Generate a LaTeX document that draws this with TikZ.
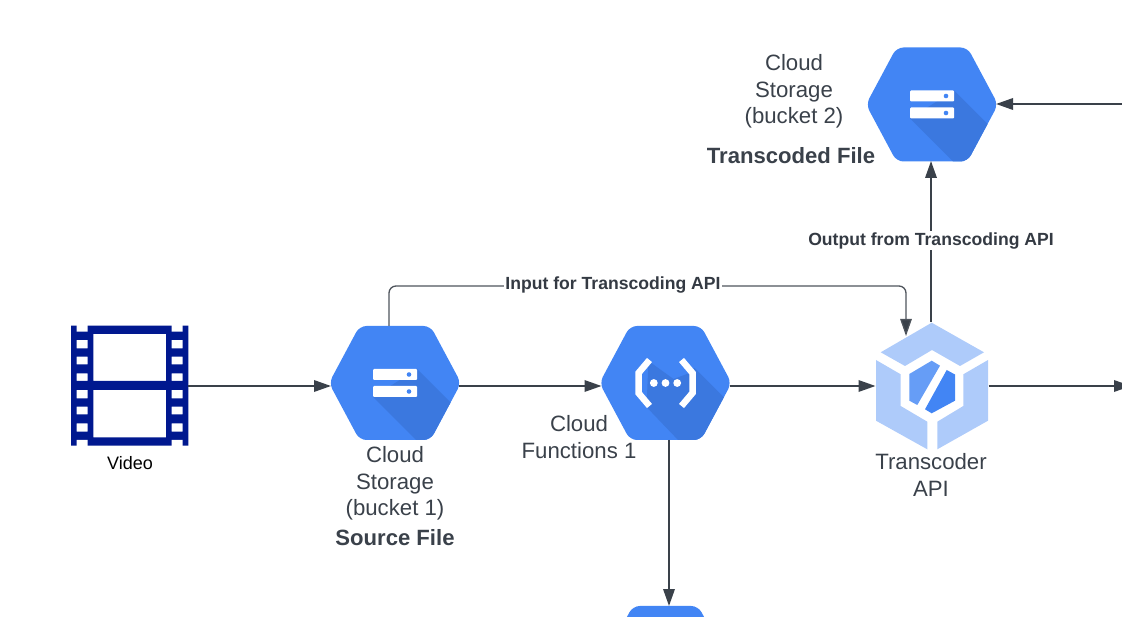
\documentclass[tikz,border=0pt]{standalone}
\usepackage{fontspec}
\setmainfont{Liberation Sans}
\usetikzlibrary{arrows.meta}
\definecolor{gblue}{HTML}{4285F4}
\definecolor{gshade}{HTML}{3B78DF}
\definecolor{gpale}{HTML}{AECBFA}
\definecolor{gmid}{HTML}{669DF6}
\definecolor{ink}{HTML}{3A414A}
\definecolor{navy}{HTML}{00188F}
\tikzset{
  conn/.style={draw=ink,line width=1.8pt,-{Triangle[length=17pt,width=11.5pt,fill=ink]}},
  thin conn/.style={draw=ink!90,line width=1.3pt,rounded corners=7pt,-{Triangle[length=17pt,width=11.5pt,fill=ink]}},
  hexbox/.style={minimum width=128pt,minimum height=114pt,inner sep=0pt,outer sep=0pt},
  lbl/.style={text=ink,font=\fontsize{22.2}{26.6}\selectfont,align=center,inner sep=0pt},
  boldlbl/.style={text=ink,font=\fontsize{22.1}{26}\selectfont\bfseries,inner sep=0pt},
  edgelbl/.style={text=ink!90!black,font=\fontsize{17.6}{20}\selectfont\bfseries,fill=white,inner sep=1pt},
  pics/hexagon/.style={code={
    \begin{scope}
      \clip[rounded corners=7pt] (0,-57) -- (35.5,-57) -- (66,0) -- (35.5,57) -- (-35.5,57) -- (-66,0) -- (-35.5,-57) -- cycle;
      \fill[gblue] (-70,-60) rectangle (70,60);
      #1
    \end{scope}
  }},
  pics/bucket/.style={code={
    \pic {hexagon={\fill[gshade] (22,-14) -- (80,44) -- (80,70) -- (34,70) -- (-22,14) -- cycle;}};
    \fill[white,rounded corners=1pt] (-22,-14) rectangle (22,-3);
    \fill[white,rounded corners=1pt] (-22,3) rectangle (22,14);
    \fill[gblue] (14,-8.5) circle (2.3) (14,8.5) circle (2.3);
  }},
  pics/functions/.style={code={
    \pic {hexagon={\fill[gshade] (-17,-22) -- (8,-4) -- (24,-10) -- (29,-15) -- (80,36) -- (80,70) -- (25,70) -- (-19,24) -- cycle;}};
    \draw[white,line width=6.5pt] (-16,-23) -- (-27,-10) -- (-27,10) -- (-16,23);
    \draw[white,line width=6.5pt] (16,-23) -- (27,-10) -- (27,10) -- (16,23);
    \fill[white] (-11.7,0) circle (3.9) (0,0) circle (3.9) (11.7,0) circle (3.9);
  }}
}
\begin{document}
\begin{tikzpicture}[x=1pt,y=-1pt]
\useasboundingbox (0,0) rectangle (1122,617);
\clip (0,0) rectangle (1122,617);
% hidden anchors for connectors
\node[minimum width=117pt,minimum height=120pt,inner sep=0pt,outer sep=0pt] (video) at (129.5,386) {};
\node[hexbox] (bucketa) at (395,386) {};
\node[hexbox] (func) at (665.5,386) {};
\node[minimum width=113pt,minimum height=127pt,inner sep=0pt,outer sep=0pt] (trans) at (932,386) {};
\node[hexbox] (bucketb) at (932,104) {};
\node[hexbox] (lower) at (665.5,663) {};
\coordinate (eastout) at (1131,386);
\coordinate (eastin) at (1130,104);
% film strip
\fill[navy,even odd rule]
  (71,325.7) rectangle (188.3,445.7)
  (93.3,334) rectangle (166,381)
  (93.3,390) rectangle (166,437.3)
  (76.7,340) rectangle (87.7,348.3)
  (76.7,356.7) rectangle (87.7,364.3)
  (76.7,373.3) rectangle (87.7,381)
  (76.7,390) rectangle (87.7,398.3)
  (76.7,406.7) rectangle (87.7,414.3)
  (76.7,423.3) rectangle (87.7,431.7)
  (171.7,340) rectangle (182.7,348.3)
  (171.7,356.7) rectangle (182.7,364.3)
  (171.7,373.3) rectangle (182.7,381)
  (171.7,390) rectangle (182.7,398.3)
  (171.7,406.7) rectangle (182.7,414.3)
  (171.7,423.3) rectangle (182.7,431.7);
\fill[white] (76.7,325) rectangle (87.7,331.7) (171.7,325) rectangle (182.7,331.7)
  (76.7,440) rectangle (87.7,446.5) (171.7,440) rectangle (182.7,446.5);
% icons
\pic at (395,383) {bucket};
\pic at (932,104.5) {bucket};
\pic at (665.5,383) {functions};
\pic[scale=0.92] at (665.5,658.4) {hexagon={}};
% transcoder cube
\fill[gpale] (931.7,322.7) -- (984,352.3) -- (960,366) -- (932,350) -- (905,366) -- (880.7,352.3) -- cycle;
\fill[gpale] (876,360) -- (900.7,374.3) -- (900.7,406) -- (927.3,421.7) -- (927.3,449.3) -- (876,420.7) -- cycle;
\fill[gpale] (988,360) -- (963.3,374.3) -- (963.3,406) -- (937.3,421.7) -- (937.3,449.3) -- (988,420.7) -- cycle;
\fill[gmid] (909.3,374) -- (931.7,360.7) -- (940,365.7) -- (917.3,405) -- (909.3,400.7) -- cycle;
\fill[gblue] (946.7,370) -- (955,374.5) -- (955,400.7) -- (931.7,413.3) -- (925,409.3) -- cycle;
% connectors
\draw[conn] (video.east) -- (bucketa.west);
\draw[conn] (bucketa.east) -- (func.west);
\draw[conn] (func.east) -- (trans.west);
\draw[conn] (trans.east) -- (eastout);
\draw[conn] (eastin) -- (bucketb.east);
\draw[conn] (trans.north) ++(-1,0) coordinate (transtop) (transtop) -- (transtop |- bucketb.south);
\draw[conn] ([xshift=3.5pt,yshift=3pt]func.south) -- ([xshift=3.5pt]lower.north);
\draw[thin conn] ([xshift=-6pt,yshift=3pt]bucketa.north) -- ++(0,-40) -| ([yshift=-13.5pt,xshift=-26pt]trans.north);
% connector labels
\node[edgelbl] (inlabel) at (613,284.7) {Input for Transcoding API};
\node[edgelbl] (outlabel) at (931,240.7) {Output from Transcoding API};
% labels
\node[lbl,font=\fontsize{18}{20}\selectfont,text=black] (videolbl) at (130,463.5) {Video};
\node[lbl] (b1lbl) at (395,483.3) {Cloud\\Storage\\(bucket 1)};
\node[boldlbl] (b1bold) at (395,537.3) {Source File};
\node[lbl] (b2lbl) at (794,91.5) {Cloud\\Storage\\(bucket 2)};
\node[boldlbl] (b2bold) at (791,156) {Transcoded File};
\node[lbl] (fnlbl) at (579,437.3) {Cloud\\Functions 1};
\node[lbl] (trlbl) at (931,474.8) {Transcoder\\API};
\end{tikzpicture}
\end{document}
